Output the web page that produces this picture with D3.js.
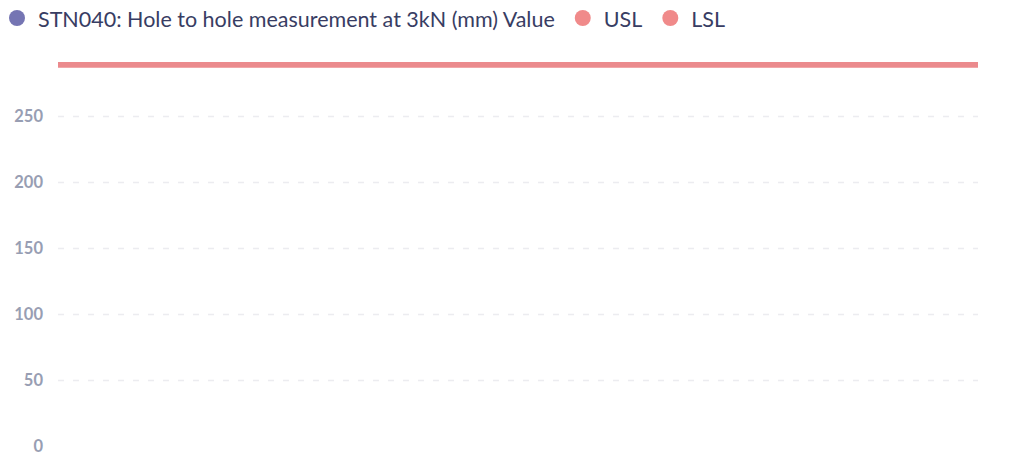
<!DOCTYPE html>
<html lang="en">
<head>
  <meta charset="UTF-8">
  <title>STN040 Hole to hole measurement</title>
  <script src="https://d3js.org/d3.v7.min.js"></script>
  <style>
      body {
          margin: 0;
          background: #fff;
          font-family: Lato, "Open Sans", sans-serif;
      }

      .tick text {
          font-family: Lato, sans-serif;
          font-size: 16.5px;
          font-weight: 700;
          fill: #989eb3;
      }

      .grid line {
          stroke: #ececf0;
          stroke-width: 1.5px;
          stroke-dasharray: 6 9;
      }

      .legend text {
          font-family: Lato, sans-serif;
          font-size: 21.5px;
          fill: #383d63;
      }
  </style>
</head>
<body>
<svg width="1024" height="458"></svg>
<script>

  // series
  const seriesNames = ["STN040: Hole to hole measurement at 3kN (mm) Value", "USL", "LSL"];
  const seriesColors = ["#7575b3", "#f08a8a", "#f08a8a"];
  const values = [];          // no measured points visible
  const usl = [290];
  const lsl = [288];
  const yTicks = [0, 50, 100, 150, 200, 250];

  const svg = d3.select("svg");
  const margin = {top: 57, right: 46, bottom: 11.5, left: 58};
  const width = 1024 - margin.left - margin.right,
  height = 458 - margin.top - margin.bottom;

  const g = svg.append("g")
  .attr("transform", `translate(${margin.left},${margin.top})`);

  const y = d3.scaleLinear()
  .domain([0, 295])
  .range([height, 0]);

  const x = d3.scaleLinear()
  .domain([0, 1])
  .range([0, width]);

  // dashed grid
  g.append("g")
  .attr("class", "grid")
  .selectAll("line")
  .data(yTicks.filter(d => d > 0))
  .enter().append("line")
  .attr("x1", 0)
  .attr("x2", width)
  .attr("y1", d => y(d))
  .attr("y2", d => y(d));

  const yAxis = g.append("g")
  .call(d3.axisLeft(y).tickValues(yTicks).tickSize(0).tickPadding(15));
  yAxis.select(".domain").remove();

  // spec limits
  const limits = [{name: "LSL", v: lsl[0]}, {name: "USL", v: usl[0]}];
  g.append("g")
  .selectAll("line")
  .data(limits)
  .enter().append("line")
  .attr("x1", x(0))
  .attr("x2", x(1))
  .attr("y1", d => y(d.v))
  .attr("y2", d => y(d.v))
  .attr("stroke", "#eb8a8d")
  .attr("stroke-width", 3);

  g.append("g")
  .selectAll("circle")
  .data(values)
  .enter().append("circle")
  .attr("cx", (d, i) => x(i / Math.max(1, values.length - 1)))
  .attr("cy", d => y(d))
  .attr("r", 4)
  .attr("fill", seriesColors[0]);

  // legend
  const legend = svg.append("g").attr("class", "legend");
  let lx = 17;
  seriesNames.forEach((name, i) => {
    legend.append("circle")
    .attr("cx", lx)
    .attr("cy", 18)
    .attr("r", 8)
    .attr("fill", seriesColors[i]);
    const t = legend.append("text")
    .attr("x", lx + 21)
    .attr("y", 27)
    .text(name);
    lx += 21 + t.node().getComputedTextLength() + 28;
  });
</script>
</body>
</html>
